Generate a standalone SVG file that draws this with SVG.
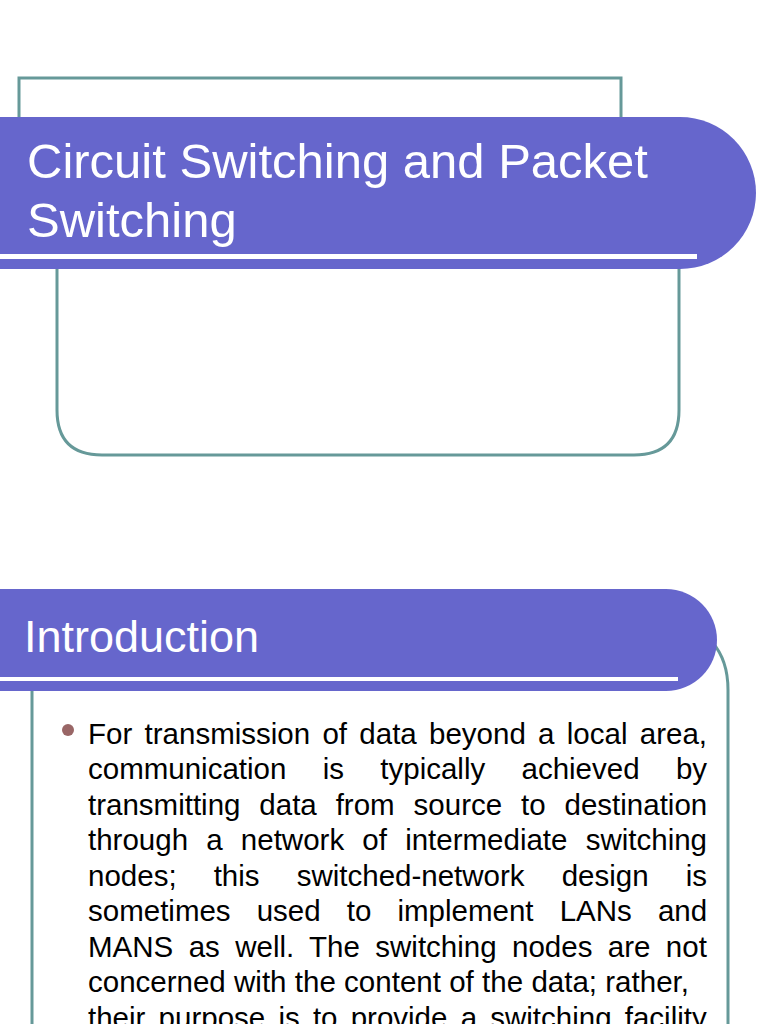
<svg xmlns="http://www.w3.org/2000/svg" width="768" height="1024" viewBox="0 0 768 1024">
<style>
.frame{fill:none;stroke:#669999;stroke-width:3}
.banner{fill:#6666CC}
.title{font-family:"Liberation Sans",Arial,sans-serif;fill:#fff}
.body{font-family:"Liberation Sans",Arial,sans-serif;font-size:29.5px;fill:#000}
</style>
<rect width="768" height="1024" fill="#fff"/>
<g id="slide1">
<path class="frame" d="M19,140 V78 H621 V140"/>
<path class="frame" d="M57,250 V410 Q57,455 102,455 H634 Q679,455 679,410 V250"/>
<path class="banner" d="M0,117 H680 A76,76 0 0 1 680,269 H0 Z"/>
<rect x="0" y="254" width="697" height="5" fill="#fff"/>
<text class="title" font-size="49" x="27" y="178">Circuit Switching and Packet</text>
<text class="title" font-size="49" x="27" y="237">Switching</text>
</g>
<g id="slide2">
<path class="frame" d="M32,680 V1024"/>
<path class="frame" d="M712,642 Q728,660 728,690 V1024"/>
<path class="banner" d="M0,589 H666 A51,51 0 0 1 666,691 H0 Z"/>
<rect x="0" y="677" width="678" height="4" fill="#fff"/>
<text class="title" font-size="45" x="24" y="652">Introduction</text>
<circle cx="68" cy="730" r="6" fill="#996666"/>
<g class="body">
<text x="88" y="744" word-spacing="4.1">For transmission of data beyond a local area,</text>
<text x="88" y="779" word-spacing="28.1">communication is typically achieved by</text>
<text x="88" y="815" word-spacing="10.7">transmitting data from source to destination</text>
<text x="88" y="850" word-spacing="10">through a network of intermediate switching</text>
<text x="88" y="886" word-spacing="28.9">nodes; this switched-network design is</text>
<text x="88" y="921" word-spacing="17.9">sometimes used to implement LANs and</text>
<text x="88" y="957" word-spacing="7.2">MANS as well. The switching nodes are not</text>
<text x="88" y="992" word-spacing="0.1">concerned with the content of the data; rather,</text>
<text x="88" y="1028" word-spacing="5">their purpose is to provide a switching facility</text>
</g>
</g>
</svg>
